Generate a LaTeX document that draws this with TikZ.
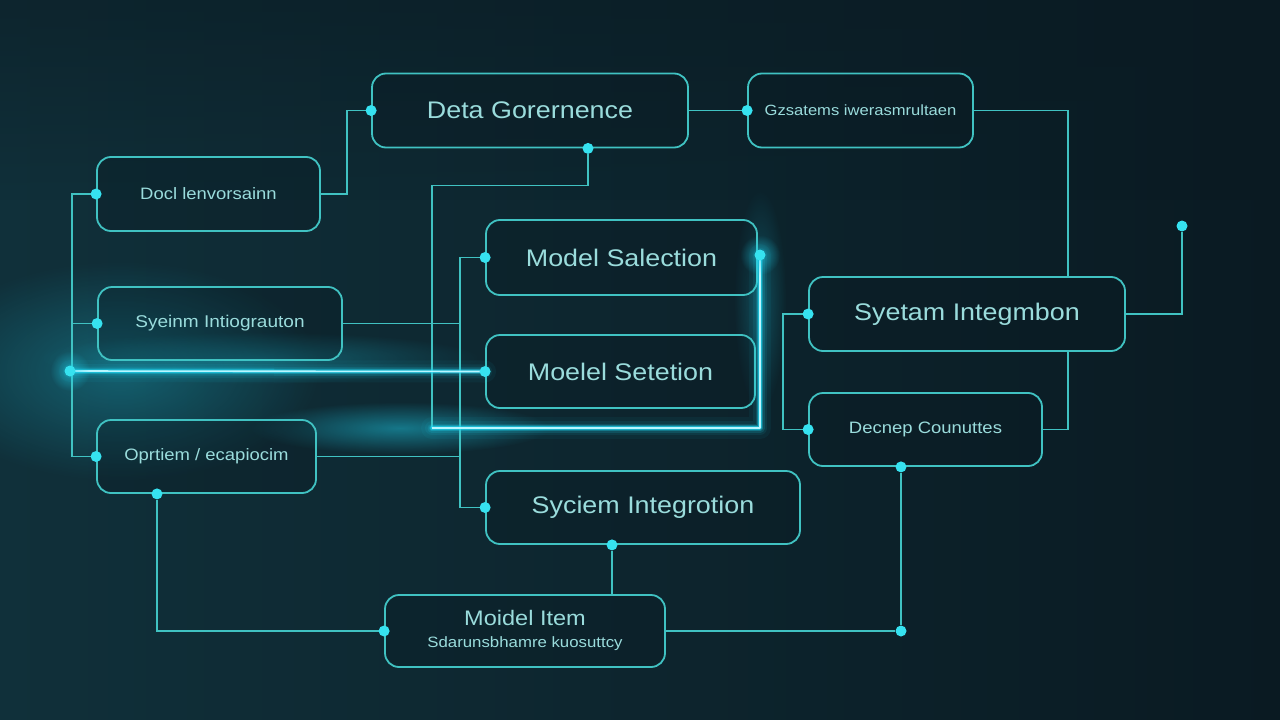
\documentclass[tikz,border=0pt]{standalone}
\usepackage{fontspec}
\setmainfont{Liberation Sans}[FakeStretch=1.12]
\usetikzlibrary{calc,fadings}
\definecolor{bgA}{HTML}{10303A}
\definecolor{bgB}{HTML}{0A1A22}
\definecolor{ln}{HTML}{40C2C2}
\definecolor{tx}{HTML}{9ADCDC}
\definecolor{dotc}{HTML}{36E2F0}
\definecolor{glowc}{HTML}{1FD6F2}
\definecolor{glowcore}{HTML}{B8F6FF}
\tikzfading[name=softglow, inner color=transparent!0, outer color=transparent!100]
\begin{document}
\begin{tikzpicture}[x=1pt,y=-1pt,
  box/.style={draw=ln, line width=1.8pt, rounded corners=14pt, fill=bgB, fill opacity=0.3, text opacity=1, text=tx, inner sep=0pt},
  wire/.style={draw=ln, line width=1.5pt},
  dot/.style={circle, fill=dotc, inner sep=0pt, minimum size=11pt},
  txt/.style={text=tx, inner sep=0pt},
  fbig/.style={font=\fontsize{24}{28}\selectfont},
  fmid/.style={font=\fontsize{17}{20}\selectfont},
  fsml/.style={font=\fontsize{16.5}{19}\selectfont},
  ftiny/.style={font=\fontsize{14.8}{17}\selectfont}]
\useasboundingbox (0,0) rectangle (1280,720);
\fill[left color=bgA, right color=bgB] (0,0) rectangle (1280,720);
\fill[bgB, opacity=0.5, path fading=south] (0,0) rectangle (1280,200);
% haze
\fill[glowc, opacity=0.30, path fading=softglow] (120,371) ellipse (200 and 110);
\fill[glowc, opacity=0.45, path fading=softglow] (400,428) ellipse (150 and 26);
\fill[glowc, opacity=0.30, path fading=softglow] (260,358) ellipse (220 and 26);
\fill[glowc, opacity=0.25, path fading=softglow] (760,300) ellipse (26 and 110);

% nodes
\node[box, fbig, minimum width=316pt, minimum height=74pt] (dg) at (530,110.5) {Deta Gorernence};
\node[box, ftiny, minimum width=225pt, minimum height=74pt] (tr) at (860.5,110.5) {Gzsatems iwerasmrultaen};
\node[box, fsml, minimum width=223pt, minimum height=74pt] (doc) at (208.5,194) {Docl lenvorsainn};
\node[box, fmid, minimum width=244pt, minimum height=73pt] (sy1) at (220,323.5) {Syeinm Intiograuton};
\node[box, fsml, minimum width=219pt, minimum height=73pt] (op) at (206.5,456.5) {Oprtiem / ecapiocim};
\node[box, fbig, minimum width=271pt, minimum height=75pt] (ms) at (621.5,257.5) {Model Salection};
\node[box, fbig, minimum width=269pt, minimum height=73pt] (mst) at (620.5,371.5) {Moelel Setetion};
\node[box, fbig, minimum width=316pt, minimum height=74pt] (si) at (967,314) {Syetam Integmbon};
\node[box, fsml, minimum width=233pt, minimum height=73pt] (dc) at (925.5,429.5) {Decnep Counuttes};
\node[box, fbig, minimum width=314pt, minimum height=73pt] (sys) at (643,507.5) {Syciem Integrotion};
\node[box, minimum width=280pt, minimum height=72pt] (mi) at (525,631) {};
\node[txt, font=\fontsize{21}{24}\selectfont] (mi1) at ([yshift=13pt]mi.center) {Moidel Item};
\node[txt, font=\fontsize{15}{17}\selectfont] (mi2) at ([yshift=-13pt]mi.center) {Sdarunsbhamre kuosuttcy};

% helper coordinates
\coordinate (sp1) at (72,0);
\coordinate (sp2) at (460,0);
\coordinate (sp4) at (1068,0);
\coordinate (sp5) at (783,0);

% wires
\draw[wire] (doc.east) -- ++(26,0) |- (dg.west);
\draw[wire] (dg.east) -- (tr.west);
\draw[wire] (tr.east) -| (si.north -| sp4);
\draw[wire] (si.south -| sp4) |- (dc.east);
\node[dot] (tdot) at (1182,226) {};
\draw[wire] (si.east) -| (tdot);
\draw[wire] (doc.west) -| (sp1 |- op.west) -- (op.west);
\draw[wire] (sy1.west) -- (sy1.west -| sp1);
\draw[wire] (ms.west) -| (sp2 |- sys.west) -- (sys.west);
\draw[wire] (sy1.east) -- (sy1.east -| sp2);
\draw[wire] (op.east) -- (op.east -| sp2);
\node[dot] (dgS) at ([xshift=58pt]dg.south) {};
\coordinate (g1) at (432,428);
\coordinate (g2) at (760,428);
\draw[wire] (dgS) |- ++(-156,37) -- (g1);
\draw[wire] (si.west) -| (sp5 |- dc.west) -- (dc.west);
\node[dot] (dcS) at ([xshift=-24.5pt]dc.south) {};
\node[dot] (rdot) at (mi.east -| dcS) {};
\draw[wire] (dcS) -- (rdot) -- (mi.east);
\node[dot] (sysS) at ([xshift=-31pt]sys.south) {};
\draw[wire] (sysS) -- (mi.north -| sysS);
\node[dot] (opS) at ([xshift=-49.5pt]op.south) {};
\draw[wire] (opS) |- (mi.west);

% glowing paths
\coordinate (gL) at (70,371);
\coordinate (gE) at (760,255);
\foreach \w/\o in {22/0.05,14/0.08,9/0.14,5.5/0.3,3.5/0.6}{
  \draw[glowc, line width=\w pt, opacity=\o, line cap=round] (gL) -- (mst.west);
  \draw[glowc, line width=\w pt, opacity=\o, line cap=round, line join=round] (g1) -- (g2) -- (gE);
}
\draw[glowcore, line width=1.6pt] (gL) -- (mst.west);
\draw[glowcore, line width=1.6pt, line join=round] (g1) -- (g2) -- (gE);
\fill[glowc, opacity=0.5, path fading=softglow] (gE) circle (20);
\fill[glowc, opacity=0.5, path fading=softglow] (gL) circle (20);
\node[dot] (gEd) at (gE) {};
\node[dot] (gLd) at (gL) {};

% dots
\node[dot] at (dg.west) {};
\node[dot] at (tr.west) {};
\node[dot] at (doc.west) {};
\node[dot] at (sy1.west) {};
\node[dot] at (op.west) {};
\node[dot] at (ms.west) {};
\node[dot] at (mst.west) {};
\node[dot] at (si.west) {};
\node[dot] at (dc.west) {};
\node[dot] at (sys.west) {};
\node[dot] at (mi.west) {};
\end{tikzpicture}
\end{document}
